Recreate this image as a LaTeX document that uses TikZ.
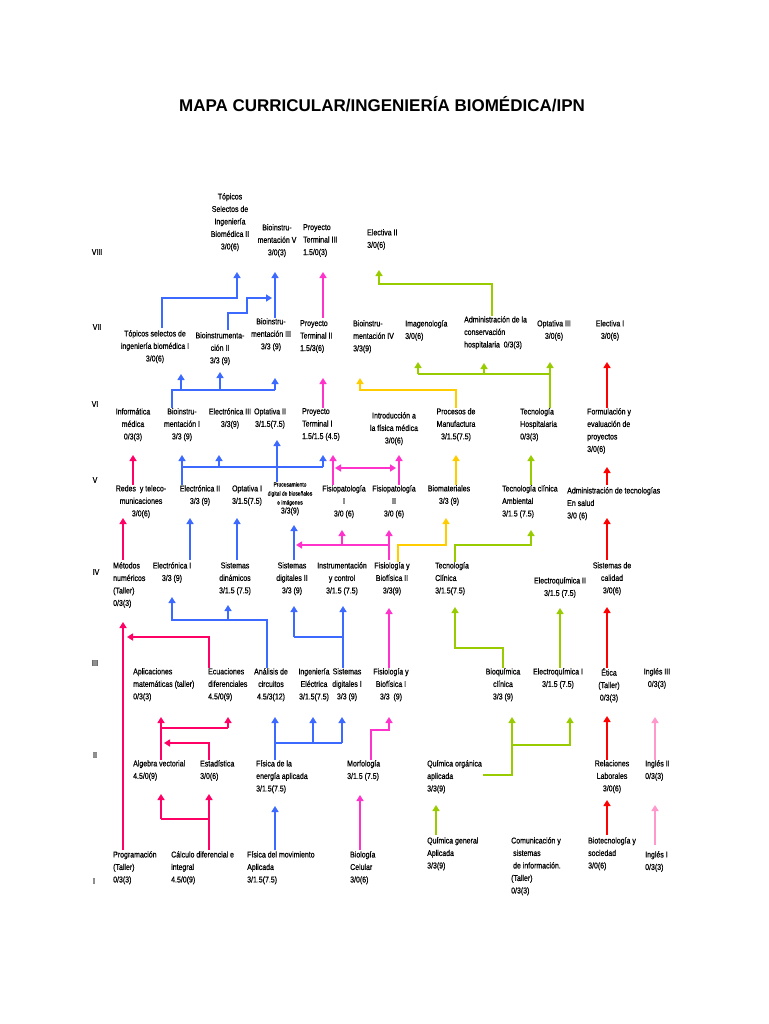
\documentclass[tikz,border=0pt]{standalone}
\usepackage{fontspec}
\setmainfont{Liberation Sans}
\newfontfamily\nf{Liberation Sans}[FakeStretch=0.82,FakeBold=0.6]
\usetikzlibrary{arrows.meta}
\definecolor{cblue}{RGB}{60,105,255}
\definecolor{cmag}{RGB}{255,51,204}
\definecolor{ccrim}{RGB}{255,0,102}
\definecolor{cyel}{RGB}{255,204,0}
\definecolor{cgreen}{RGB}{153,204,0}
\definecolor{cred}{RGB}{255,0,0}
\definecolor{cpink}{RGB}{255,153,204}
\tikzset{
 lc/.style={inner sep=0pt,anchor=north,align=center,font=\nf\fontsize{8.5}{12.5}\selectfont},
 ll/.style={inner sep=0pt,anchor=north west,align=left,font=\nf\fontsize{8.5}{12.5}\selectfont},
 sem/.style={inner sep=0pt,font=\nf\fontsize{8.5}{10}\selectfont},
 ar/.style={line width=2.3pt,-{Triangle[width=7pt,length=6pt]},line join=miter},
 ln/.style={line width=2.3pt},
}
\begin{document}
\begin{tikzpicture}[x=1pt,y=-1pt]
\useasboundingbox (0,0) rectangle (768,1024);
\node[font=\bfseries\fontsize{17}{20}\selectfont,inner sep=0pt] (title) at (382,104) {MAPA CURRICULAR/INGENIERÍA BIOMÉDICA/IPN};
% semester labels
\node[sem] (s8) at (97,252) {VIII};
\node[sem] (s7) at (97,327) {VII};
\node[sem] (s6) at (95,404) {VI};
\node[sem] (s5) at (95,480) {V};
\node[sem] (s4) at (96,572) {IV};
\node[sem] (s3) at (95,663) {III};
\node[sem] (s2) at (95,755) {II};
\node[sem] (s1) at (94,881) {I};
% VIII
\node[lc] (tsII) at (230,193) {Tópicos\\Selectos de\\Ingeniería\\Biomédica II\\3/0(6)};
\node[lc] (bioV) at (277,224) {Bioinstru-\\mentación V\\3/0(3)};
\node[ll] (ptIII) at (303,224) {Proyecto\\Terminal III\\1.5/0(3)};
\node[ll] (elII) at (367,229) {Electiva II\\3/0(6)};
% VII
\node[lc] (tsI) at (155,330) {Tópicos selectos de\\ingeniería biomédica I\\3/0(6)};
\node[lc] (bioII) at (220,332) {Bioinstrumenta-\\ción II\\3/3 (9)};
\node[lc] (bioIII) at (271,318) {Bioinstru-\\mentación III\\3/3 (9)};
\node[ll] (ptII) at (300,320) {Proyecto\\Terminal II\\1.5/3(6)};
\node[ll] (bioIV) at (353,320) {Bioinstru-\\mentación IV\\3/3(9)};
\node[ll] (imag) at (405,320) {Imagenología\\3/0(6)};
\node[ll] (admin) at (464,316) {Administración de la\\conservación\\hospitalaria\ \ 0/3(3)};
\node[lc] (optIII) at (554,320) {Optativa III\\3/0(6)};
\node[lc] (elI) at (610,320) {Electiva I\\3/0(6)};
% VI
\node[lc] (inf) at (133,408) {Informática\\médica\\0/3(3)};
\node[lc] (bioI) at (182,408) {Bioinstru-\\mentación I\\3/3 (9)};
\node[lc] (elecIII) at (230,408) {Electrónica III\\3/3(9)};
\node[lc] (optII) at (270,408) {Optativa II\\3/1.5(7.5)};
\node[ll] (ptI) at (302,408) {Proyecto\\Terminal I\\1.5/1.5 (4.5)};
\node[lc] (intro) at (394,412) {Introducción a\\la física médica\\3/0(6)};
\node[lc] (procman) at (456,408) {Procesos de\\Manufactura\\3/1.5(7.5)};
\node[ll] (techosp) at (520,408) {Tecnología\\Hospitalaria\\0/3(3)};
\node[ll] (form) at (587,408) {Formulación y\\evaluación de\\proyectos\\3/0(6)};
% V
\node[lc] (redes) at (141,485) {Redes\ \ y teleco-\\municaciones\\3/0(6)};
\node[lc] (elecII) at (200,485) {Electrónica II\\3/3 (9)};
\node[lc] (optI) at (247,485) {Optativa I\\3/1.5(7.5)};
\node[lc,font=\nf\fontsize{6}{9}\selectfont] (proc) at (290,482) {Procesamiento\\digital de biose\~nales\\e imágenes\\{\fontsize{8.5}{9}\selectfont 3/3(9)}};
\node[lc] (fisioI) at (344,485) {Fisiopatología\\I\\3/0 (6)};
\node[lc] (fisioII) at (394,485) {Fisiopatología\\II\\3/0 (6)};
\node[lc] (biomat) at (449,485) {Biomateriales\\3/3 (9)};
\node[ll] (tcamb) at (502,485) {Tecnología clínica\\Ambiental\\3/1.5 (7.5)};
\node[ll] (admtec) at (567,487) {Administración de tecnologías\\En salud\\3/0 (6)};
% IV
\node[ll] (metnum) at (113,562) {Métodos\\numéricos\\(Taller)\\0/3(3)};
\node[lc] (elecI) at (172,562) {Electrónica I\\3/3 (9)};
\node[lc] (sistdin) at (235,562) {Sistemas\\dinámicos\\3/1.5 (7.5)};
\node[lc] (sdII) at (292,562) {Sistemas\\digitales II\\3/3 (9)};
\node[lc] (instr) at (342,562) {Instrumentación\\y control\\3/1.5 (7.5)};
\node[lc] (fbII) at (392,562) {Fisiología y\\Biofísica II\\3/3(9)};
\node[ll] (tecclin) at (435,562) {Tecnología\\Clínica\\3/1.5(7.5)};
\node[lc] (eqII) at (560,577) {Electroquímica II\\3/1.5 (7.5)};
\node[lc] (sistcal) at (612,562) {Sistemas de\\calidad\\3/0(6)};
% III
\node[ll] (apmat) at (133,668) {Aplicaciones\\matemáticas (taller)\\0/3(3)};
\node[ll] (ecdif) at (208,668) {Ecuaciones\\diferenciales\\4.5/0(9)};
\node[lc] (ancirc) at (271,668) {Análisis de\\circuitos\\4.5/3(12)};
\node[lc] (ingel) at (314,668) {Ingeniería\\Eléctrica\\3/1.5(7.5)};
\node[lc] (sdI) at (347,668) {Sistemas\\digitales I\\3/3 (9)};
\node[lc] (fbI) at (391,668) {Fisiología y\\Biofísica I\\3/3\ \ (9)};
\node[lc] (bioq) at (503,668) {Bioquímica\\clínica\\3/3 (9)};
\node[lc] (eqI) at (558,668) {Electroquímica I\\3/1.5 (7.5)};
\node[lc] (etica) at (609,668) {Ética\\(Taller)\\0/3(3)};
\node[lc] (ingIII) at (657,668) {Inglés III\\0/3(3)};
% II
\node[ll] (algvec) at (133,760) {Algebra vectorial\\4.5/0(9)};
\node[ll] (estad) at (200,760) {Estadística\\3/0(6)};
\node[ll] (fisen) at (256,760) {Física de la\\energía aplicada\\3/1.5(7.5)};
\node[ll] (morf) at (347,760) {Morfología\\3/1.5 (7.5)};
\node[ll] (qorg) at (427,760) {Química orgánica\\aplicada\\3/3(9)};
\node[lc] (rellab) at (612,760) {Relaciones\\Laborales\\3/0(6)};
\node[ll] (ingII) at (645,760) {Inglés II\\0/3(3)};
% I
\node[ll] (prog) at (113,851) {Programación\\(Taller)\\0/3(3)};
\node[ll] (calc) at (171,851) {Cálculo diferencial e\\integral\\4.5/0(9)};
\node[ll] (fismov) at (247,851) {Física del movimiento\\Aplicada\\3/1.5(7.5)};
\node[ll] (biocel) at (350,851) {Biología\\Celular\\3/0(6)};
\node[ll] (qgen) at (427,837) {Química general\\Aplicada\\3/3(9)};
\node[ll] (comun) at (511,837) {Comunicación y\\\ sistemas\\\ de información.\\(Taller)\\0/3(3)};
\node[ll] (biotec) at (588,837) {Biotecnología y\\sociedad\\3/0(6)};
\node[ll] (ingI) at (645,851) {Inglés I\\0/3(3)};

% ---------------- blue
\begin{scope}[cblue]
\draw[ar] (162,328) |- (237,298) -- (237,272);
\draw[ar] (228,330) |- (247,313) |- (272,298);
\draw[ar] (275,318) -- (275,272);
\draw[ln] (172,408) |- (275,390);
\draw[ar] (181,390) -- (181,374);
\draw[ar] (220,390) -- (220,372);
\draw[ar] (275,390) -- (275,378);
\draw[ln] (182,485) |- (323,467);
\draw[ar] (182,467) -- (182,455);
\draw[ar] (219,467) -- (219,455);
\draw[ar] (323,467) -- (323,455);
\draw[ar] (277,482) -- (277,440);
\draw[ar] (190,560) -- (190,518);
\draw[ar] (237,560) -- (237,518);
\draw[ar] (294,560) -- (294,525);
\draw[ar] (267,668) |- (172,620) -- (172,597);
\draw[ar] (228,620) -- (228,605);
\draw[ln] (343,668) -- (343,637);
\draw[ln] (294,637) -- (343,637);
\draw[ar] (294,637) -- (294,606);
\draw[ar] (343,637) -- (343,606);
\draw[ln] (275,760) |- (342,743);
\draw[ar] (275,743) -- (275,717);
\draw[ar] (313,743) -- (313,717);
\draw[ar] (342,743) -- (342,717);
\draw[ar] (275,850) -- (275,806);
\end{scope}
% ---------------- crimson
\begin{scope}[ccrim]
\draw[ar] (123,850) -- (123,622);
\draw[ar] (209,668) |- (127,637);
\draw[ln] (209,850) |- (161,819);
\draw[ar] (161,819) -- (161,794);
\draw[ar] (209,819) -- (209,794);
\draw[ar] (161,760) -- (161,717);
\draw[ln] (161,728) -- (228,728);
\draw[ar] (228,728) -- (228,717);
\draw[ar] (209,760) |- (164,743);
\draw[ar] (123,560) -- (123,518);
\draw[ar] (133,485) -- (133,455);
\end{scope}
% ---------------- magenta
\begin{scope}[cmag]
\draw[ar] (323,318) -- (323,272);
\draw[ar] (323,408) -- (323,378);
\draw[ar] (333,485) -- (333,455);
\draw[ar,{Triangle[width=7pt,length=6pt]}-{Triangle[width=7pt,length=6pt]}] (335,468) -- (396,468);
\draw[ar] (399,485) -- (399,455);
\draw[ar] (389,560) |- (296,545);
\draw[ar] (342,545) -- (342,530);
\draw[ar] (389,545) -- (389,530);
\draw[ar] (389,668) -- (389,608);
\draw[ar] (371,760) |- (389,730) -- (389,717);
\draw[ar] (360,850) -- (360,795);
\end{scope}
% ---------------- yellow
\begin{scope}[cyel]
\draw[ar] (456,408) |- (360,390) -- (360,378);
\draw[ar] (456,485) -- (456,455);
\draw[ar] (398,562) |- (446,545) -- (446,518);
\end{scope}
% ---------------- green
\begin{scope}[cgreen]
\draw[ar] (492,316) |- (379,284) -- (379,270);
\draw[ln] (550,408) |- (418,374);
\draw[ar] (418,374) -- (418,362);
\draw[ar] (484,374) -- (484,363);
\draw[ar] (550,374) -- (550,362);
\draw[ar] (531,485) -- (531,455);
\draw[ar] (455,562) |- (531,545) -- (531,530);
\draw[ar] (503,668) |- (455,648) -- (455,607);
\draw[ar] (560,668) -- (560,608);
\draw[ln] (483,775) -| (512,745);
\draw[ar] (512,775) -- (512,717);
\draw[ar] (512,745) -| (570,717);
\draw[ar] (436,835) -- (436,805);
\end{scope}
% ---------------- red
\begin{scope}[cred]
\draw[ar] (607,835) -- (607,800);
\draw[ar] (607,760) -- (607,716);
\draw[ar] (607,668) -- (607,607);
\draw[ar] (607,560) -- (607,518);
\draw[ar] (607,485) -- (607,467);
\draw[ar] (607,408) -- (607,362);
\end{scope}
% ---------------- pink
\begin{scope}[cpink]
\draw[ar] (655,845) -- (655,805);
\draw[ar] (655,760) -- (655,717);
\end{scope}
\end{tikzpicture}
\end{document}
